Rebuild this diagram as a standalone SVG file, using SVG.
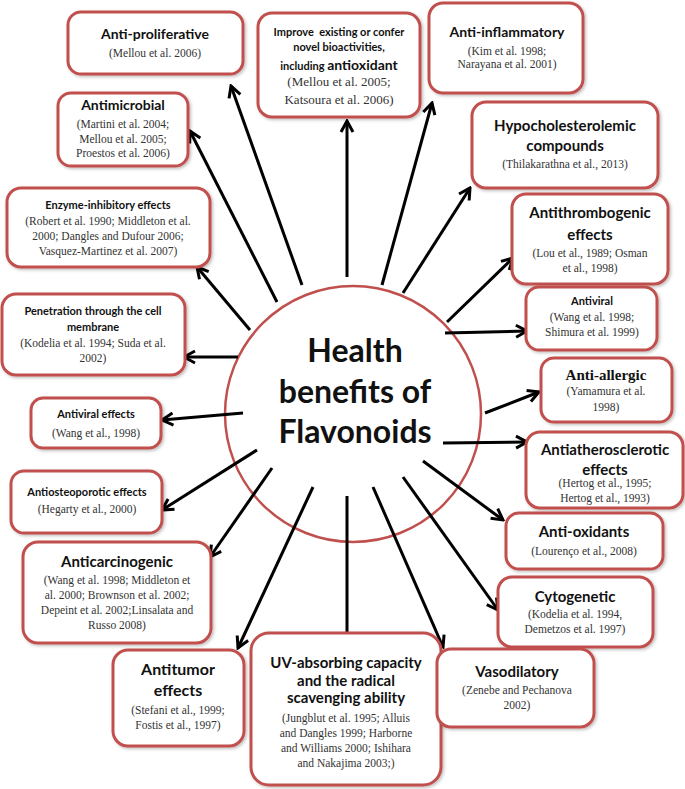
<svg xmlns="http://www.w3.org/2000/svg" width="685" height="789" viewBox="0 0 685 789">
<defs>
<style>
.box{fill:#fff;stroke:#c0504d;stroke-width:3}
.t{font-family:Lato,"Liberation Sans",sans-serif;font-weight:bold;fill:#111;text-anchor:middle}
.c{font-family:"Liberation Serif",serif;font-size:11.5px;fill:#333;text-anchor:middle}
.c13{font-size:13px}
.s11{font-size:11px}
.s14{font-size:14px}
.s15{font-size:15px}
.s16{font-size:16px}
.conn line{stroke:#000;stroke-width:3;marker-end:url(#ah)}
</style>
<marker id="ah" markerUnits="userSpaceOnUse" markerWidth="16" markerHeight="16" viewBox="0 0 16 16" refX="14" refY="8" orient="auto">
<path d="M3,2 L14,8 L3,14" fill="none" stroke="#000" stroke-width="3"/>
</marker>
<filter id="sh" x="-10%" y="-10%" width="130%" height="130%">
<feDropShadow dx="1.5" dy="1.5" stdDeviation="1.5" flood-color="#000" flood-opacity="0.25"/>
</filter>
</defs>
<rect width="685" height="789" fill="#fff"/>

<g id="center">
<circle cx="353" cy="414" r="128" fill="#fff" stroke="#c0504d" stroke-width="2.5"/>
<text class="t" x="355" y="362" font-size="32">Health</text>
<text class="t" x="355" y="403" font-size="32">benefits of</text>
<text class="t" x="355" y="443" font-size="32">Flavonoids</text>
</g>

<g class="conn" id="connectors">
<line x1="302" y1="285" x2="231" y2="86"/>
<line x1="277" y1="302" x2="190" y2="131"/>
<line x1="250" y1="330" x2="197" y2="267"/>
<line x1="347" y1="277" x2="347" y2="121"/>
<line x1="382" y1="285" x2="432" y2="103"/>
<line x1="403" y1="293" x2="470" y2="188"/>
<line x1="447" y1="322" x2="513" y2="258"/>
<line x1="445" y1="333" x2="527" y2="331"/>
<line x1="485" y1="413" x2="539" y2="392"/>
<line x1="443" y1="443" x2="527" y2="442"/>
<line x1="423" y1="461" x2="503" y2="520"/>
<line x1="403" y1="477" x2="498" y2="610"/>
<line x1="373" y1="487" x2="443" y2="647"/>
<line x1="347" y1="496" x2="347" y2="655"/>
<line x1="313" y1="487" x2="238" y2="648"/>
<line x1="272" y1="468" x2="210" y2="557"/>
<line x1="257" y1="450" x2="162" y2="510"/>
<line x1="243" y1="413" x2="162" y2="420"/>
<line x1="238" y1="357" x2="184" y2="357"/>
</g>

<g id="antiproliferative">
<rect class="box" filter="url(#sh)" x="68" y="12" width="175" height="62" rx="13"/>
<text class="t s14" x="155" y="39">Anti-proliferative</text>
<text class="c" x="155" y="57">(Mellou et al. 2006)</text>
</g>

<g id="antimicrobial">
<rect class="box" filter="url(#sh)" x="58" y="93" width="130" height="73" rx="13"/>
<text class="t s14" x="123" y="110">Antimicrobial</text>
<text class="c" x="123" y="128">(Martini et al. 2004;</text>
<text class="c" x="123" y="143">Mellou et al. 2005;</text>
<text class="c" x="123" y="157">Proestos et al. 2006)</text>
</g>

<g id="improve">
<rect class="box" filter="url(#sh)" x="258" y="13" width="162" height="104" rx="14"/>
<text class="t s11" x="339" y="36" xml:space="preserve">Improve  existing or confer</text>
<text class="t s11" x="339" y="51">novel bioactivities,</text>
<text class="t s11" x="339" y="70">including <tspan font-size="14">antioxidant</tspan></text>
<text class="c c13" x="339" y="86">(Mellou et al. 2005;</text>
<text class="c c13" x="339" y="104">Katsoura et al. 2006)</text>
</g>

<g id="antiinflammatory">
<rect class="box" filter="url(#sh)" x="429" y="3" width="154" height="90" rx="14"/>
<text class="t s14" x="507" y="37">Anti-inflammatory</text>
<text class="c" x="507" y="55">(Kim et al. 1998;</text>
<text class="c" x="507" y="68">Narayana et al. 2001)</text>
</g>

<g id="hypocholesterolemic">
<rect class="box" filter="url(#sh)" x="472" y="102" width="186" height="86" rx="14"/>
<text class="t s15" x="565" y="131">Hypocholesterolemic</text>
<text class="t s15" x="565" y="151">compounds</text>
<text class="c" x="565" y="168">(Thilakarathna et al., 2013)</text>
</g>

<g id="enzyme">
<rect class="box" filter="url(#sh)" x="7" y="188" width="203" height="79" rx="14"/>
<text class="t s11" x="108" y="209">Enzyme-inhibitory effects</text>
<text class="c" x="108" y="225">(Robert et al. 1990; Middleton et al.</text>
<text class="c" x="108" y="240">2000; Dangles and Dufour 2006;</text>
<text class="c" x="108" y="255">Vasquez-Martinez et al. 2007)</text>
</g>

<g id="penetration">
<rect class="box" filter="url(#sh)" x="2" y="294" width="183" height="81" rx="14"/>
<text class="t s11" x="93" y="315">Penetration through the cell</text>
<text class="t s11" x="93" y="331">membrane</text>
<text class="c" x="93" y="347">(Kodelia et al. 1994; Suda et al.</text>
<text class="c" x="93" y="362">2002)</text>
</g>

<g id="antiviraleffects">
<rect class="box" filter="url(#sh)" x="31" y="398" width="130" height="50" rx="12"/>
<text class="t s11" x="96" y="418">Antiviral effects</text>
<text class="c" x="96" y="437">(Wang et al., 1998)</text>
</g>

<g id="antithrombogenic">
<rect class="box" filter="url(#sh)" x="512" y="194" width="156" height="90" rx="14"/>
<text class="t s15" x="590" y="218">Antithrombogenic</text>
<text class="t s15" x="590" y="240">effects</text>
<text class="c" x="590" y="257">(Lou et al., 1989; Osman</text>
<text class="c" x="590" y="272">et al., 1998)</text>
</g>

<g id="antiviral">
<rect class="box" filter="url(#sh)" x="526" y="287" width="131" height="63" rx="13"/>
<text class="t s11" x="592" y="305">Antiviral</text>
<text class="c" x="592" y="321">(Wang et al. 1998;</text>
<text class="c" x="592" y="336">Shimura et al. 1999)</text>
</g>

<g id="antiallergic">
<rect class="box" filter="url(#sh)" x="541" y="358" width="131" height="64" rx="13"/>
<text x="606" y="380" font-family="Liberation Serif,serif" font-weight="bold" font-size="15" text-anchor="middle" fill="#111">Anti-allergic</text>
<text class="c" x="606" y="395">(Yamamura et al.</text>
<text class="c" x="606" y="411">1998)</text>
</g>

<g id="antiatherosclerotic">
<rect class="box" filter="url(#sh)" x="526" y="432" width="157" height="76" rx="14"/>
<text class="t s15" x="605" y="455">Antiatherosclerotic</text>
<text class="t s15" x="605" y="475">effects</text>
<text class="c" x="605" y="487">(Hertog et al., 1995;</text>
<text class="c" x="605" y="502">Hertog et al., 1993)</text>
</g>

<g id="antioxidants">
<rect class="box" filter="url(#sh)" x="506" y="513" width="157" height="56" rx="13"/>
<text class="t s15" x="584" y="537">Anti-oxidants</text>
<text class="c" x="584" y="555">(Lourenço et al., 2008)</text>
</g>

<g id="cytogenetic">
<rect class="box" filter="url(#sh)" x="498" y="577" width="155" height="70" rx="14"/>
<text class="t s15" x="575" y="602">Cytogenetic</text>
<text class="c" x="575" y="618">(Kodelia et al. 1994,</text>
<text class="c" x="575" y="633">Demetzos et al. 1997)</text>
</g>

<g id="antiosteoporotic">
<rect class="box" filter="url(#sh)" x="11" y="471" width="151" height="62" rx="13"/>
<text class="t s11" x="87" y="496">Antiosteoporotic effects</text>
<text class="c" x="87" y="513">(Hegarty et al., 2000)</text>
</g>

<g id="anticarcinogenic">
<rect class="box" filter="url(#sh)" x="23" y="542" width="188" height="101" rx="15"/>
<text class="t s15" x="117" y="567">Anticarcinogenic</text>
<text class="c" x="117" y="584">(Wang et al. 1998; Middleton et</text>
<text class="c" x="117" y="599">al. 2000; Brownson et al. 2002;</text>
<text class="c" x="117" y="614">Depeint et al. 2002;Linsalata and</text>
<text class="c" x="117" y="629">Russo 2008)</text>
</g>

<g id="antitumor">
<rect class="box" filter="url(#sh)" x="113" y="650" width="131" height="96" rx="15"/>
<text class="t s16" x="178" y="675">Antitumor</text>
<text class="t s16" x="178" y="696">effects</text>
<text class="c" x="178" y="714">(Stefani et al., 1999;</text>
<text class="c" x="178" y="729">Fostis et al., 1997)</text>
</g>

<g id="uvabsorbing">
<rect class="box" filter="url(#sh)" x="251" y="633" width="190" height="152" rx="18"/>
<text class="t s15" x="346" y="668">UV-absorbing capacity</text>
<text class="t s15" x="346" y="686">and the radical</text>
<text class="t s15" x="346" y="703">scavenging ability</text>
<text class="c" x="346" y="722">(Jungblut et al. 1995; Alluis</text>
<text class="c" x="346" y="737">and Dangles 1999; Harborne</text>
<text class="c" x="346" y="752">and Williams 2000; Ishihara</text>
<text class="c" x="346" y="767">and Nakajima 2003;)</text>
</g>

<g id="vasodilatory">
<rect class="box" filter="url(#sh)" x="437" y="649" width="157" height="78" rx="14"/>
<text class="t s15" x="517" y="677">Vasodilatory</text>
<text class="c" x="517" y="694">(Zenebe and Pechanova</text>
<text class="c" x="517" y="709">2002)</text>
</g>
</svg>
